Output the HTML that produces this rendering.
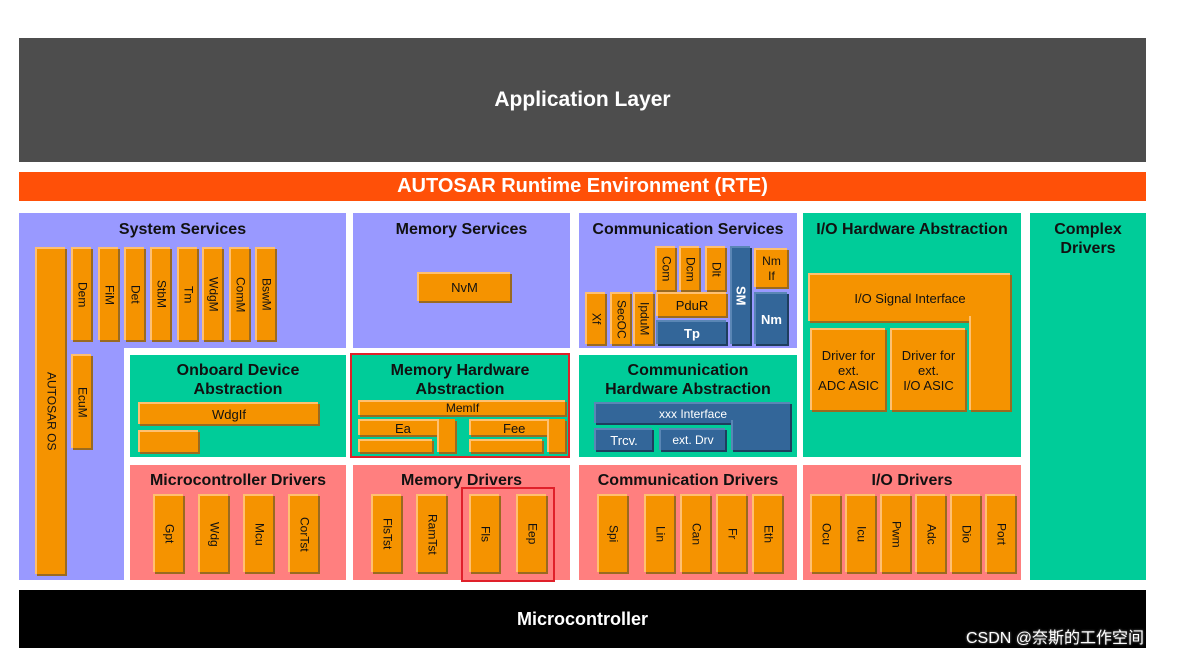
<!DOCTYPE html><html><head><style>
body{margin:0;width:1194px;height:654px;background:#fff;position:relative;font-family:"Liberation Sans",sans-serif;overflow:hidden}
div{position:absolute;box-sizing:border-box}
.t{font-weight:bold;font-size:16px;color:#111;text-align:center;line-height:19px}
.o{background:#f59300;border-top:2px solid #ffc070;border-left:2px solid #ffc070;box-shadow:2px 2px 0 #9a6a20;font-size:12px;color:#111;display:flex;align-items:center;justify-content:center;text-align:center;line-height:15px}
.b{background:#336699;border-top:2px solid #5a86b5;border-left:2px solid #5a86b5;box-shadow:2px 2px 0 #1e3e5e;font-size:13px;color:#fff;font-weight:bold;display:flex;align-items:center;justify-content:center}
.v{writing-mode:vertical-rl}
.p{background:#9999ff}.g{background:#00cc99}.r{background:#ff7f7f}
</style></head><body>
<div style="left:19px;top:38px;width:1127px;height:124px;background:#4d4d4d;color:#fff;font-weight:bold;font-size:21px;display:flex;align-items:center;justify-content:center">Application Layer</div>
<div style="left:19px;top:172px;width:1127px;height:29px;background:#ff5008;color:#fff;font-weight:bold;font-size:20px;display:flex;align-items:center;justify-content:center">AUTOSAR Runtime Environment (RTE)</div>
<div style="left:0;top:619px"></div>

<div class="p" style="left:19px;top:213px;width:327px;height:135px"></div>
<div class="p" style="left:19px;top:213px;width:105px;height:367px"></div>
<div class="t" style="left:19px;top:220px;width:327px">System Services</div>
<div class="o v" style="left:35px;top:247px;width:30px;height:327px">AUTOSAR OS</div>
<div class="o v" style="left:71px;top:247px;width:20px;height:93px">Dem</div>
<div class="o v" style="left:98px;top:247px;width:20px;height:93px">FiM</div>
<div class="o v" style="left:124px;top:247px;width:20px;height:93px">Det</div>
<div class="o v" style="left:150px;top:247px;width:20px;height:93px">StbM</div>
<div class="o v" style="left:177px;top:247px;width:20px;height:93px">Tm</div>
<div class="o v" style="left:202px;top:247px;width:20px;height:93px">WdgM</div>
<div class="o v" style="left:229px;top:247px;width:20px;height:93px">ComM</div>
<div class="o v" style="left:255px;top:247px;width:20px;height:93px">BswM</div>
<div class="o v" style="left:71px;top:354px;width:20px;height:94px">EcuM</div>

<div class="g" style="left:130px;top:355px;width:216px;height:102px"></div>
<div class="t" style="left:130px;top:361px;width:216px">Onboard Device<br>Abstraction</div>
<div class="o" style="left:138px;top:402px;width:180px;height:22px;font-size:13px">WdgIf</div>
<div class="o" style="left:138px;top:430px;width:60px;height:22px"></div>

<div class="r" style="left:130px;top:465px;width:216px;height:115px"></div>
<div class="t" style="left:130px;top:471px;width:216px">Microcontroller Drivers</div>
<div class="o v" style="left:153px;top:494px;width:30px;height:78px">Gpt</div>
<div class="o v" style="left:198px;top:494px;width:30px;height:78px">Wdg</div>
<div class="o v" style="left:243px;top:494px;width:30px;height:78px">Mcu</div>
<div class="o v" style="left:288px;top:494px;width:30px;height:78px">CorTst</div>

<div class="p" style="left:353px;top:213px;width:217px;height:135px"></div>
<div class="t" style="left:353px;top:220px;width:217px">Memory Services</div>
<div class="o" style="left:417px;top:272px;width:93px;height:29px;font-size:13px">NvM</div>

<div class="g" style="left:350px;top:353px;width:220px;height:105px;border:2px solid #e0202a"></div>
<div class="t" style="left:350px;top:361px;width:220px">Memory Hardware<br>Abstraction</div>
<div class="o" style="left:358px;top:400px;width:207px;height:15px">MemIf</div>
<div class="o" style="left:358px;top:419px;width:97px;height:16px;justify-content:flex-start;padding-left:35px;font-size:13px">Ea</div>
<div class="o" style="left:437px;top:419px;width:18px;height:33px;border-top:none"></div>
<div class="o" style="left:358px;top:439px;width:74px;height:13px"></div>
<div class="o" style="left:469px;top:419px;width:96px;height:16px;justify-content:flex-start;padding-left:32px;font-size:13px">Fee</div>
<div class="o" style="left:547px;top:419px;width:18px;height:33px;border-top:none"></div>
<div class="o" style="left:469px;top:439px;width:73px;height:13px"></div>

<div class="r" style="left:353px;top:465px;width:217px;height:115px"></div>
<div class="t" style="left:353px;top:471px;width:217px">Memory Drivers</div>
<div class="o v" style="left:371px;top:494px;width:30px;height:78px">FlsTst</div>
<div class="o v" style="left:416px;top:494px;width:30px;height:78px">RamTst</div>
<div class="o v" style="left:469px;top:494px;width:30px;height:78px">Fls</div>
<div class="o v" style="left:516px;top:494px;width:30px;height:78px">Eep</div>
<div style="left:461px;top:487px;width:94px;height:95px;border:2px solid #e0202a"></div>

<div class="p" style="left:579px;top:213px;width:218px;height:135px"></div>
<div class="t" style="left:579px;top:220px;width:218px">Communication Services</div>
<div class="o v" style="left:655px;top:246px;width:20px;height:44px">Com</div>
<div class="o v" style="left:679px;top:246px;width:20px;height:44px">Dcm</div>
<div class="o v" style="left:705px;top:246px;width:20px;height:44px">Dlt</div>
<div class="b v" style="left:730px;top:246px;width:20px;height:98px">SM</div>
<div class="o" style="left:754px;top:248px;width:33px;height:39px">Nm<br>If</div>
<div class="b" style="left:754px;top:292px;width:33px;height:52px">Nm</div>
<div class="o v" style="left:585px;top:292px;width:20px;height:52px">Xf</div>
<div class="o v" style="left:610px;top:292px;width:20px;height:52px">SecOC</div>
<div class="o v" style="left:633px;top:292px;width:20px;height:52px">IpduM</div>
<div class="o" style="left:656px;top:292px;width:70px;height:24px;font-size:13px">PduR</div>
<div class="b" style="left:656px;top:320px;width:70px;height:24px">Tp</div>

<div class="g" style="left:579px;top:355px;width:218px;height:102px"></div>
<div class="t" style="left:579px;top:361px;width:218px">Communication<br>Hardware Abstraction</div>
<div class="b" style="left:594px;top:402px;width:196px;height:21px;font-weight:normal;font-size:12px">xxx Interface</div>
<div class="b" style="left:731px;top:420px;width:59px;height:30px;border-top:none"></div>
<div class="b" style="left:594px;top:428px;width:58px;height:22px;font-weight:normal;font-size:13px">Trcv.</div>
<div class="b" style="left:659px;top:428px;width:66px;height:22px;font-weight:normal;font-size:12px">ext. Drv</div>

<div class="r" style="left:579px;top:465px;width:218px;height:115px"></div>
<div class="t" style="left:579px;top:471px;width:218px">Communication Drivers</div>
<div class="o v" style="left:597px;top:494px;width:30px;height:78px">Spi</div>
<div class="o v" style="left:644px;top:494px;width:30px;height:78px">Lin</div>
<div class="o v" style="left:680px;top:494px;width:30px;height:78px">Can</div>
<div class="o v" style="left:716px;top:494px;width:30px;height:78px">Fr</div>
<div class="o v" style="left:752px;top:494px;width:30px;height:78px">Eth</div>

<div class="g" style="left:803px;top:213px;width:218px;height:244px"></div>
<div class="t" style="left:803px;top:220px;width:218px">I/O Hardware Abstraction</div>
<div class="o" style="left:808px;top:273px;width:202px;height:48px;font-size:13px;padding-right:0">I/O Signal Interface</div>
<div class="o" style="left:969px;top:316px;width:41px;height:94px;border-top:none"></div>
<div class="o" style="left:810px;top:328px;width:75px;height:82px;font-size:13px">Driver for<br>ext.<br>ADC ASIC</div>
<div class="o" style="left:890px;top:328px;width:75px;height:82px;font-size:13px">Driver for<br>ext.<br>I/O ASIC</div>

<div class="r" style="left:803px;top:465px;width:218px;height:115px"></div>
<div class="t" style="left:803px;top:471px;width:218px">I/O Drivers</div>
<div class="o v" style="left:810px;top:494px;width:30px;height:78px">Ocu</div>
<div class="o v" style="left:845px;top:494px;width:30px;height:78px">Icu</div>
<div class="o v" style="left:880px;top:494px;width:30px;height:78px">Pwm</div>
<div class="o v" style="left:915px;top:494px;width:30px;height:78px">Adc</div>
<div class="o v" style="left:950px;top:494px;width:30px;height:78px">Dio</div>
<div class="o v" style="left:985px;top:494px;width:30px;height:78px">Port</div>

<div class="g" style="left:1030px;top:213px;width:116px;height:367px"></div>
<div class="t" style="left:1030px;top:220px;width:116px">Complex<br>Drivers</div>

<div style="left:19px;top:590px;width:1127px;height:58px;background:#000;color:#fff;font-weight:bold;font-size:18px;display:flex;align-items:center;justify-content:center">Microcontroller</div>
<div style="left:966px;top:624px;font-size:16px;color:#fff;font-family:'Liberation Sans','Noto Sans CJK SC',sans-serif;text-shadow:0 0 2px #888">CSDN @奈斯的工作空间</div>
</body></html>
